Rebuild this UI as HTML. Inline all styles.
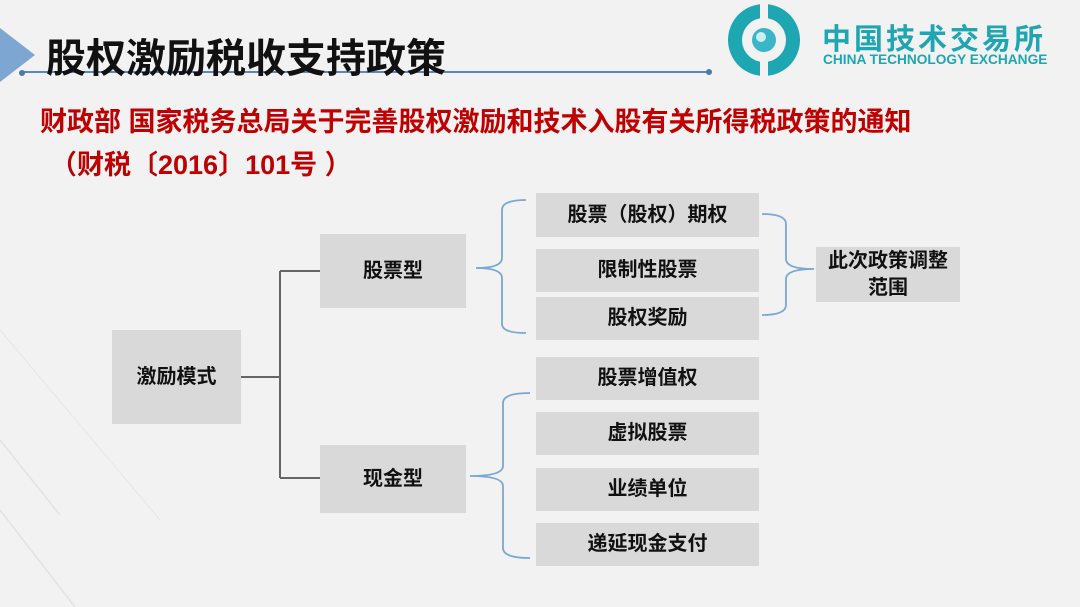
<!DOCTYPE html>
<html><head><meta charset="utf-8"><style>
html,body{margin:0;padding:0}
body{width:1080px;height:607px;background:#f2f2f2;position:relative;overflow:hidden;font-family:"Liberation Sans","Noto Sans CJK SC",sans-serif}
.t{position:absolute;white-space:nowrap;font-weight:bold}
.b{position:absolute;background:#d9d9d9;display:flex;align-items:center;justify-content:center;font-weight:bold;font-size:20px;color:#111;text-align:center;line-height:27px}
</style></head><body>
<svg width="1080" height="607" style="position:absolute;left:0;top:0">
<line x1="0" y1="440" x2="60" y2="515" stroke="#e2e2e2" stroke-width="1.5"/>
<line x1="0" y1="510" x2="75" y2="607" stroke="#e2e2e2" stroke-width="1.5"/>
<line x1="0" y1="330" x2="160" y2="520" stroke="#e6e6e6" stroke-width="1"/>
<polygon points="0,28 35,55 0,82" fill="#7ea6d3"/>
<line x1="22" y1="72" x2="708" y2="72" stroke="#5b87c0" stroke-width="2"/>
<circle cx="22" cy="73" r="3" fill="#4a78b2"/>
<circle cx="709" cy="72" r="3" fill="#4a78b2"/>
<circle cx="764" cy="40" r="36" fill="#1ea6b2"/>
<circle cx="764" cy="40" r="22" fill="#f2f2f2"/>
<rect x="760" y="2" width="8" height="76" fill="#f2f2f2"/>
<circle cx="764" cy="40" r="12" fill="#3bb6c8"/>
<circle cx="761" cy="37" r="5" fill="#cdeef3"/>
<path d="M241 377 H280 M280 271 V478 M280 271 H320 M280 478 H320" stroke="#666" stroke-width="2" fill="none"/>
<path d="M526 200 Q502 200 502 210 V258 Q502 268 476 268 Q502 268 502 278 V324 Q502 333 526 333" stroke="#7aa7d3" stroke-width="1.8" fill="none"/>
<path d="M762 214 Q786 214 786 224 V259 Q786 269 814 269 Q786 269 786 279 V305 Q786 315 762 315" stroke="#7aa7d3" stroke-width="1.8" fill="none"/>
<path d="M530 393 Q503 393 503 403 V466 Q503 476 470 476 Q503 476 503 486 V548 Q503 558 530 558" stroke="#7aa7d3" stroke-width="1.8" fill="none"/>
</svg>
<div class="t" style="left:46px;top:26px;font-size:40px;color:#111;">股权激励税收支持政策</div>
<div class="t" style="left:822px;top:16px;font-size:29px;color:#1ea6b2;letter-spacing:3px">中国技术交易所</div>
<div class="t" style="left:823px;top:52px;font-size:13.7px;color:#1ea6b2">CHINA TECHNOLOGY EXCHANGE</div>
<div class="t" style="left:40px;top:100px;font-size:27px;color:#c00000">财政部 国家税务总局关于完善股权激励和技术入股有关所得税政策的通知</div>
<div class="t" style="left:50px;top:143px;font-size:27px;color:#c00000">（财税〔2016〕101号 ）</div>
<div class="b" style="left:112px;top:330px;width:129px;height:94px">激励模式</div>
<div class="b" style="left:320px;top:234px;width:146px;height:74px">股票型</div>
<div class="b" style="left:320px;top:445px;width:146px;height:68px">现金型</div>
<div class="b" style="left:536px;top:193px;width:223px;height:44px">股票（股权）期权</div>
<div class="b" style="left:536px;top:249px;width:223px;height:43px">限制性股票</div>
<div class="b" style="left:536px;top:297px;width:223px;height:43px">股权奖励</div>
<div class="b" style="left:536px;top:357px;width:223px;height:43px">股票增值权</div>
<div class="b" style="left:536px;top:412px;width:223px;height:43px">虚拟股票</div>
<div class="b" style="left:536px;top:468px;width:223px;height:43px">业绩单位</div>
<div class="b" style="left:536px;top:523px;width:223px;height:43px">递延现金支付</div>
<div class="b" style="left:816px;top:247px;width:144px;height:55px">此次政策调整<br>范围</div>
</body></html>
